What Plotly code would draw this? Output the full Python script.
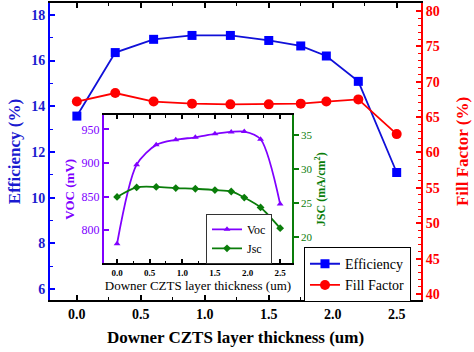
import plotly.graph_objects as go

# ---- data ----
thickness = [0.0, 0.3, 0.6, 0.9, 1.2, 1.5, 1.75, 1.95, 2.2, 2.5]
efficiency = [13.57, 16.35, 16.93, 17.1, 17.1, 16.88, 16.64, 16.2, 15.09, 11.1]
fill_factor = [67.2, 68.4, 67.2, 66.9, 66.8, 66.8, 66.9, 67.2, 67.5, 62.6]
voc = [780, 897.6, 927, 934.5, 938.3, 943.4, 946.3, 946.8, 935.4, 839]
jsc = [25.9, 27.3, 27.37, 27.2, 27.1, 26.9, 26.7, 25.8, 24.35, 21.3]

SERIF = "Liberation Serif, Times New Roman, serif"
BLUE = "#0000ff"
RED = "#ff0000"
PURPLE = "#8000ff"
GREEN = "#0a7d0a"

fig = go.Figure()

fig.add_trace(go.Scatter(
    x=thickness, y=efficiency, name="Efficiency", mode="lines+markers",
    line=dict(color="#1010d8", width=1.8),
    marker=dict(symbol="square", size=9, color=BLUE),
    xaxis="x", yaxis="y", legend="legend"))
fig.add_trace(go.Scatter(
    x=thickness, y=fill_factor, name="Fill Factor", mode="lines+markers",
    line=dict(color=RED, width=1.8),
    marker=dict(symbol="circle", size=10, color=RED),
    xaxis="x", yaxis="y2", legend="legend"))

fig.add_trace(go.Scatter(
    x=thickness, y=voc, name="Voc", mode="lines+markers",
    line=dict(color=PURPLE, width=1.8, shape="spline", smoothing=0.8),
    marker=dict(symbol="triangle-up", size=6, color=PURPLE),
    xaxis="x2", yaxis="y3", legend="legend2"))
fig.add_trace(go.Scatter(
    x=thickness, y=jsc, name="Jsc", mode="lines+markers",
    line=dict(color=GREEN, width=1.8, shape="spline", smoothing=0.8),
    marker=dict(symbol="diamond", size=6, color=GREEN),
    xaxis="x2", yaxis="y4", legend="legend2"))


def tf(size, color):
    return dict(family=SERIF, size=size, color=color)


B0, B1 = "<b>", "</b>"

fig.update_layout(
    width=474, height=352,
    margin=dict(l=50, r=53, t=1, b=52),
    paper_bgcolor="white", plot_bgcolor="white",
    font=dict(family=SERIF, color="black"),
    xaxis=dict(
        domain=[0, 1], range=[-0.21, 2.69], anchor="y",
        tickmode="linear", tick0=0, dtick=0.5, tickformat=".1f",
        tickprefix=B0, ticksuffix=B1,
        ticks="inside", ticklen=5, tickwidth=1.5, tickcolor="black",
        minor=dict(ticks="inside", dtick=0.25, ticklen=3, tickcolor="black", tickwidth=1.2),
        showline=True, linecolor="black", linewidth=2, mirror="ticks",
        showgrid=False, zeroline=False,
        tickfont=tf(14, "black"),
        title=dict(text="<b>Downer CZTS layer thickness (um)</b>",
                   font=tf(17, "black"), standoff=10),
    ),
    yaxis=dict(
        range=[5.52, 18.52], anchor="x",
        tickmode="linear", tick0=6, dtick=2,
        tickprefix=B0, ticksuffix=B1,
        ticks="inside", ticklen=5, tickwidth=1.5, tickcolor=BLUE,
        minor=dict(ticks="inside", dtick=1, ticklen=3, tickcolor=BLUE, tickwidth=1.2),
        showline=True, linecolor=BLUE, linewidth=2,
        showgrid=False, zeroline=False,
        tickfont=tf(14, "#1a1ad0"),
        title=dict(text="<b>Efficiency (%)</b>", font=tf(17, "#1a1ad0"), standoff=6),
    ),
    yaxis2=dict(
        range=[39.16, 81.12], anchor="x", overlaying="y", side="right",
        tickmode="linear", tick0=40, dtick=5,
        tickprefix=B0, ticksuffix=B1,
        ticks="inside", ticklen=5, tickwidth=1.5, tickcolor=RED,
        minor=dict(ticks="inside", dtick=1, ticklen=3, tickcolor=RED, tickwidth=1.2),
        showline=True, linecolor=RED, linewidth=2,
        showgrid=False, zeroline=False,
        tickfont=tf(14, RED),
        title=dict(text="<b>Fill Factor (%)</b>", font=tf(17, RED), standoff=17),
    ),
    xaxis2=dict(
        domain=[0.1456, 0.652], range=[-0.2, 2.68], anchor="y3",
        tickmode="linear", tick0=0, dtick=0.5, tickformat=".1f",
        tickprefix=B0, ticksuffix=B1,
        ticks="inside", ticklen=4, tickwidth=1.5, tickcolor="black",
        minor=dict(ticks="inside", dtick=0.25, ticklen=2.5, tickcolor="black", tickwidth=1.2),
        showline=True, linecolor="black", linewidth=2, mirror="ticks",
        showgrid=False, zeroline=False,
        tickfont=tf(9, "black"),
        title=dict(text="Downer CZTS layer thickness (um)", font=tf(13, "black"), standoff=3),
    ),
    yaxis3=dict(
        domain=[0.1237, 0.622], range=[751, 971], anchor="x2",
        tickmode="array", tickvals=[800, 850, 900, 950],
        tickprefix=B0, ticksuffix=B1,
        ticks="inside", ticklen=5, tickwidth=1.5, tickcolor=PURPLE,
        showline=True, linecolor=PURPLE, linewidth=2,
        showgrid=False, zeroline=False,
        tickfont=tf(12, PURPLE),
        title=dict(text="<b>VOC (mV)</b>", font=tf(13, PURPLE), standoff=4),
    ),
    yaxis4=dict(
        range=[16.15, 37.9], anchor="x2", overlaying="y3", side="right",
        tickmode="array", tickvals=[20, 25, 30, 35],
        tickprefix=B0, ticksuffix=B1,
        ticks="outside", ticklen=5, tickwidth=1.5, tickcolor=GREEN,
        showline=True, linecolor=GREEN, linewidth=2,
        showgrid=False, zeroline=False,
        tickfont=tf(11, GREEN),
        title=dict(text="<b>JSC (mA/cm<sup>2</sup>)</b>", font=tf(12, GREEN), standoff=2),
    ),
    legend=dict(
        x=0.6846, y=0.178, xanchor="left", yanchor="top",
        bgcolor="white", bordercolor="black", borderwidth=1,
        font=tf(14, "black"),
        tracegroupgap=0, itemwidth=30,
    ),
    legend2=dict(
        x=0.4205, y=0.29, xanchor="left", yanchor="top",
        bgcolor="white", bordercolor="#333333", borderwidth=1,
        font=tf(12, "black"),
        tracegroupgap=0, itemwidth=30,
    ),
)

fig.write_html("out.html")
